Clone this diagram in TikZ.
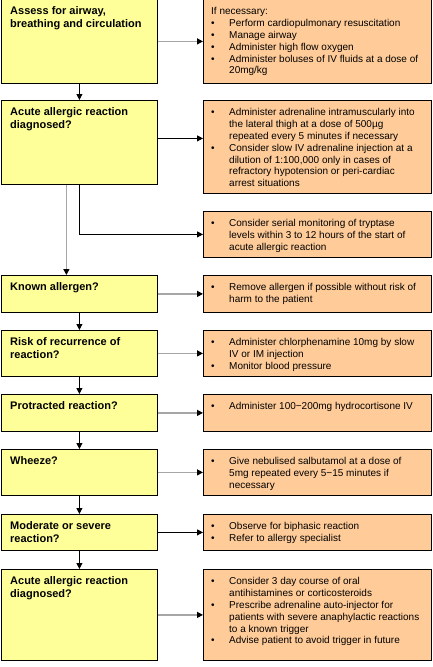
\documentclass[tikz,border=0pt]{standalone}
\usepackage{fontspec}
\setmainfont{Liberation Sans}
\usetikzlibrary{arrows.meta}
\definecolor{yfill}{HTML}{FFFF99}
\definecolor{ofill}{HTML}{FFCC99}
\definecolor{lgrey}{HTML}{A6A6A6}
\newcommand\bul[1]{\par\hangindent=18pt\hangafter=1\noindent\makebox[18pt][l]{\textbullet}\begingroup\let\\\newline#1\endgroup}
\newcommand\yb[4]{%
  \node[ybox,minimum height={(#3)-(#2)}] (#1) at (1,#2) {};
  \node[ytext] (#1t) at ([shift={(9,7.5)}]#1.north west) {#4};}
\newcommand\ob[4]{%
  \node[obox,minimum height={(#3)-(#2)}] (#1) at (203,#2) {};
  \node[otext] (#1t) at ([shift={(8,8.5)}]#1.north west) {\parbox[t]{218pt}{\raggedright\parindent=0pt #4\par}};}
\begin{document}
\begin{tikzpicture}[x=1pt,y=-1pt,
  ybox/.style={draw=black,line width=0.8pt,fill=yfill,anchor=north west,minimum width=156pt,inner sep=0pt},
  obox/.style={draw=black,line width=0.8pt,fill=ofill,anchor=north west,minimum width=228pt,inner sep=0pt},
  ytext/.style={anchor=north west,inner sep=0pt,align=left,font=\bfseries\fontsize{11}{12.5}\selectfont},
  otext/.style={anchor=north west,inner sep=0pt,font=\fontsize{10}{11.8}\selectfont},
  barrow/.style={draw=black,line width=0.8pt,-{Triangle[length=6pt,width=6pt]}},
  garrow/.style={draw=lgrey,line width=1.3pt,-{Triangle[length=6pt,width=6pt,color=black]}}]
\useasboundingbox (0,0) rectangle (432,667);
% left column
\yb{y1}{-1}{83}{Assess for airway,\\breathing and circulation}
\yb{y2}{100}{184}{Acute allergic reaction\\diagnosed?}
\yb{y3}{275}{312}{Known allergen?}
\yb{y4}{330}{376}{Risk of recurrence of\\reaction?}
\yb{y5}{394}{431}{Protracted reaction?}
\yb{y6}{449}{495}{Wheeze?}
\yb{y7}{514}{550}{Moderate or severe\\reaction?}
\yb{y8}{569}{660}{Acute allergic reaction\\diagnosed?}
% right column
\ob{r1}{-1}{83}{If necessary:%
\bul{Perform cardiopulmonary resuscitation}%
\bul{Manage airway}%
\bul{Administer high flow oxygen}%
\bul{Administer boluses of IV fluids at a dose of\\20mg/kg}}
\ob{r2}{100}{193}{%
\bul{Administer adrenaline intramuscularly into\\the lateral thigh at a dose of 500µg\\repeated every 5 minutes if necessary}%
\bul{Consider slow IV adrenaline injection at a\\dilution of 1:100,000 only in cases of\\refractory hypotension or peri-cardiac\\arrest situations}}
\ob{r3}{211}{257}{%
\bul{Consider serial monitoring of tryptase\\levels within 3 to 12 hours of the start of\\acute allergic reaction}}
\ob{r4}{275}{312}{%
\bul{Remove allergen if possible without risk of\\harm to the patient}}
\ob{r5}{330}{376}{%
\bul{Administer chlorphenamine 10mg by slow\\IV or IM injection}%
\bul{Monitor blood pressure}}
\ob{r6}{394}{431}{%
\bul{Administer 100−200mg hydrocortisone IV}}
\ob{r7}{449}{495}{%
\bul{Give nebulised salbutamol at a dose of\\5mg repeated every 5−15 minutes if\\necessary}}
\ob{r8}{514}{550}{%
\bul{Observe for biphasic reaction}%
\bul{Refer to allergy specialist}}
\ob{r9}{569}{660}{%
\bul{Consider 3 day course of oral\\antihistamines or corticosteroids}%
\bul{Prescribe adrenaline auto-injector for\\patients with severe anaphylactic reactions\\to a known trigger}%
\bul{Advise patient to avoid trigger in future}}
% horizontal connectors
\draw[garrow] (y1.east) -- (y1.east -| r1.west);
\draw[barrow] ([yshift=4pt]y2.east) -- ([yshift=4pt]y2.east -| r2.west);
\draw[barrow] (y2.south) |- (r3.west);
\draw[garrow] (y3.east) -- (y3.east -| r4.west);
\draw[garrow] (y4.east) -- (y4.east -| r5.west);
\draw[garrow] (y5.east) -- (y5.east -| r6.west);
\draw[garrow] (y6.east) -- (y6.east -| r7.west);
\draw[barrow] (y7.east) -- (y7.east -| r8.west);
\draw[garrow] (y8.east) -- (y8.east -| r9.west);
% vertical connectors
\draw[barrow] (y1.south) -- (y2.north);
\draw[garrow] ([xshift=-13pt]y2.south) -- ([xshift=-13pt]y3.north);
\draw[barrow] (y3.south) -- (y4.north);
\draw[barrow] (y4.south) -- (y5.north);
\draw[barrow] (y5.south) -- (y6.north);
\draw[barrow] (y6.south) -- (y7.north);
\draw[barrow] (y7.south) -- (y8.north);
\end{tikzpicture}
\end{document}
